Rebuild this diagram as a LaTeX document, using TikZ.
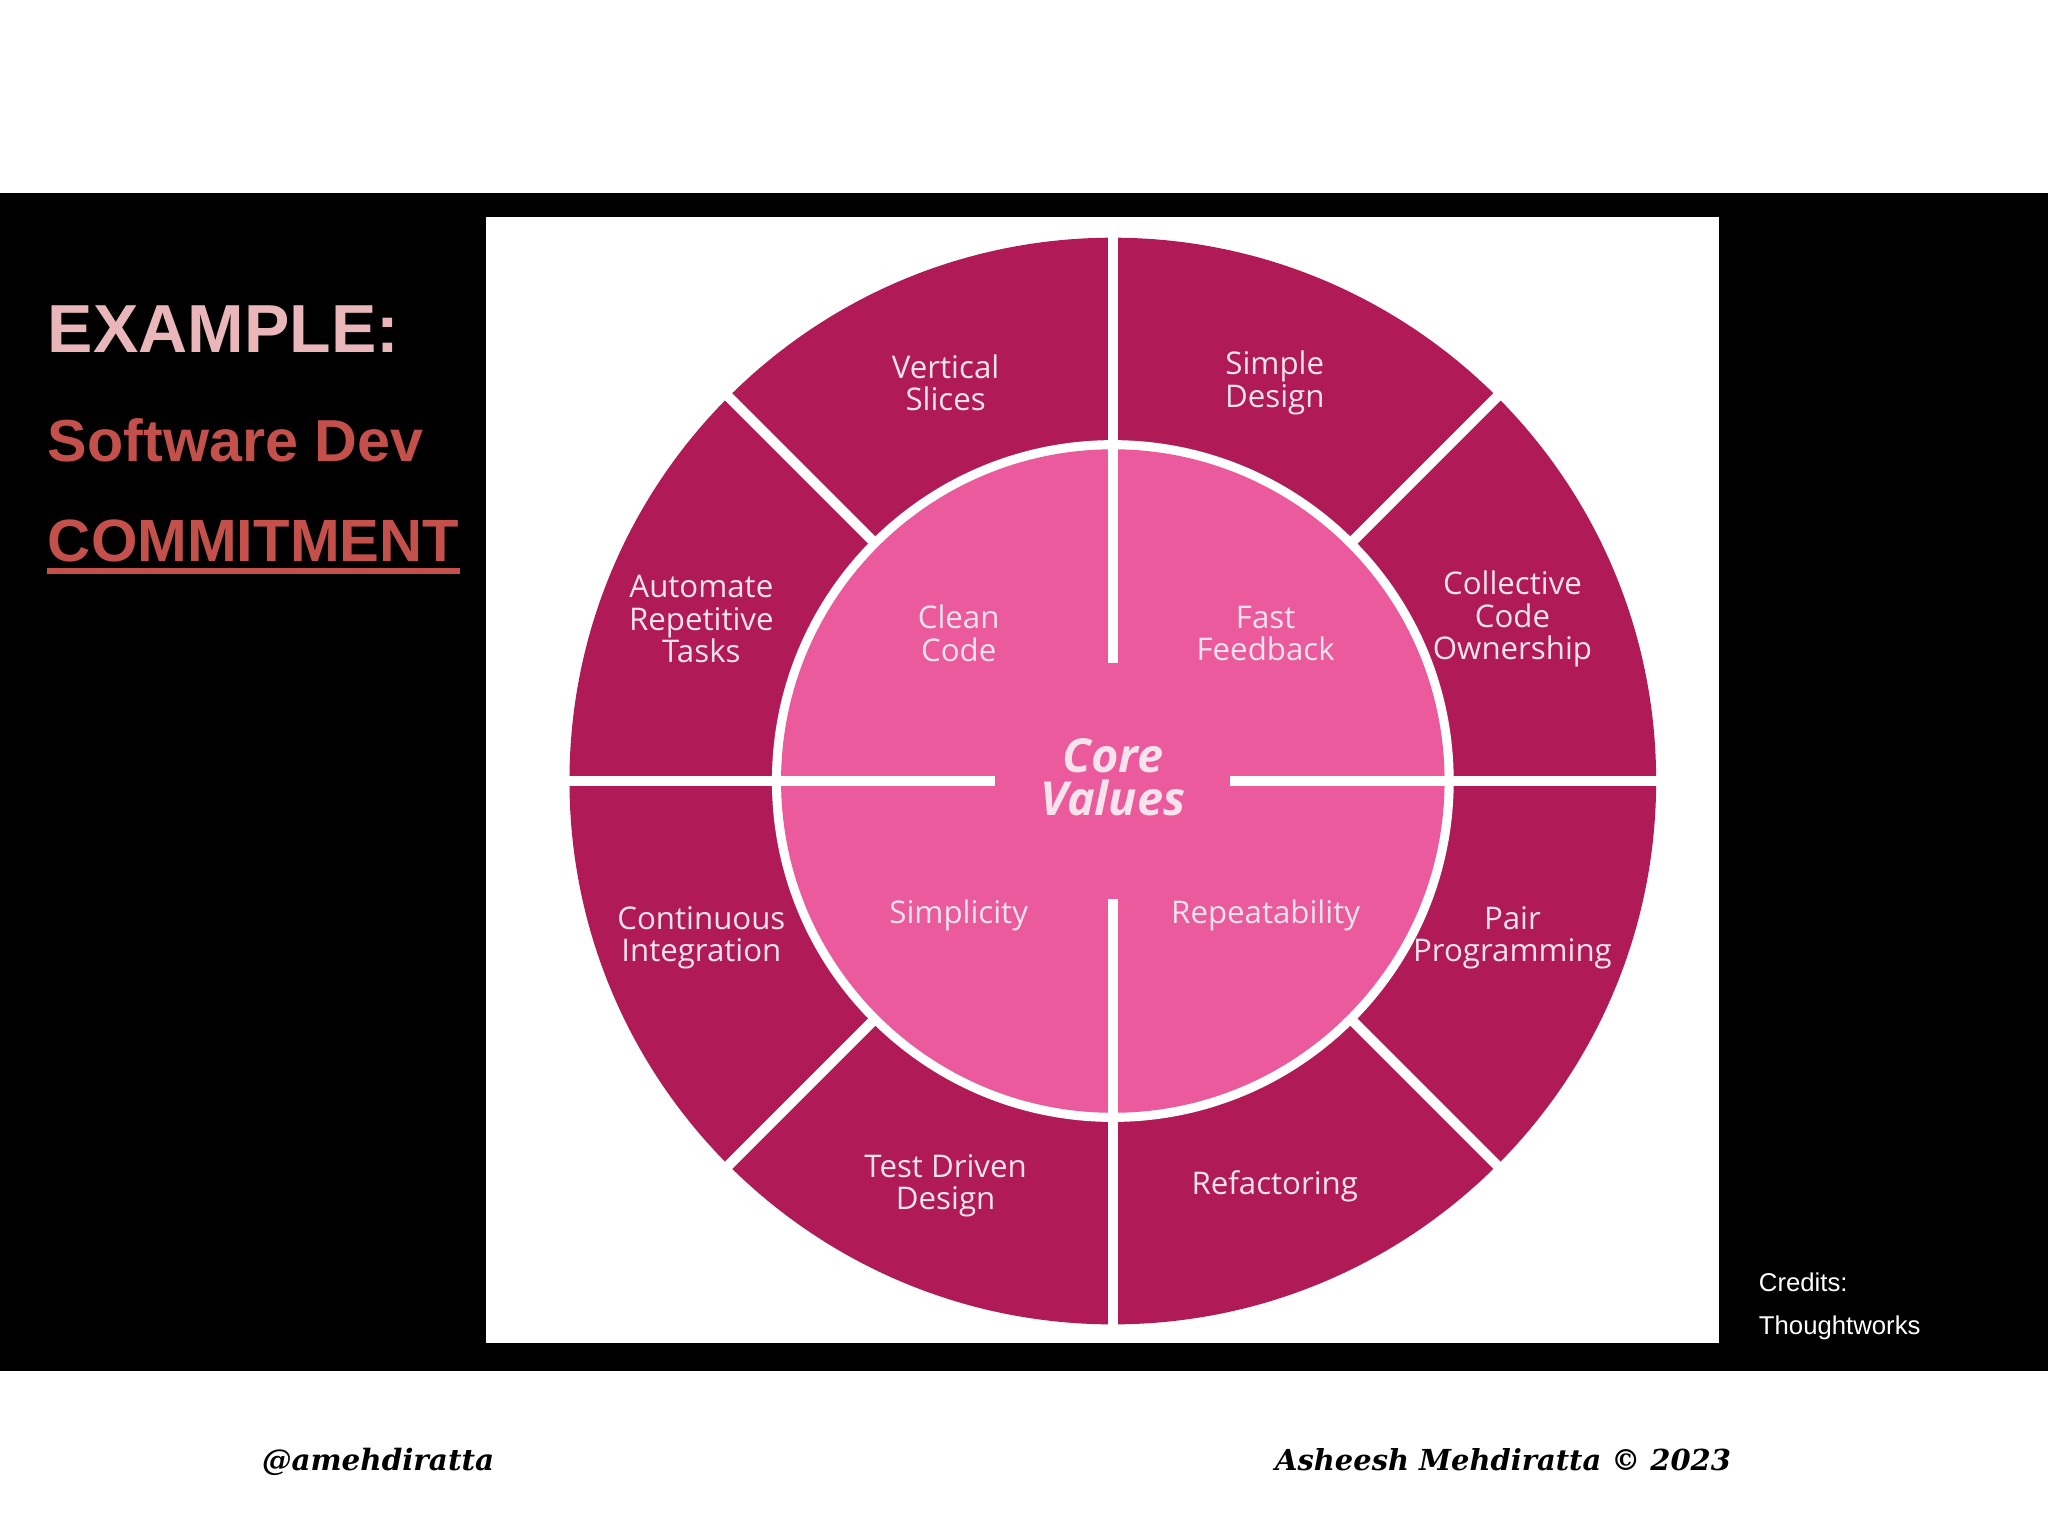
\documentclass[tikz,border=0pt]{standalone}
\usetikzlibrary{calc}
\usepackage{fontspec}
\setmainfont{Open Sans}
\newfontfamily\titlef{Liberation Sans}
\newfontfamily\footf{DejaVu Serif}
\definecolor{outerc}{HTML}{B01A57}
\definecolor{innerc}{HTML}{EA5A9C}
\definecolor{pale}{HTML}{E9B7B9}
\definecolor{redt}{HTML}{C4504C}
\definecolor{lbl}{HTML}{F6E3EC}
\begin{document}
\begin{tikzpicture}[x=0.01cm,y=0.01cm,
  lab/.style={text=lbl,align=center,font=\fontsize{6.8}{7.1}\selectfont},
  sep/.style={white,line width=2.2pt}]
\useasboundingbox (0,0) rectangle (1568,1176);
\fill[black] (0,126) rectangle (1568,1028);
\fill[white] (372,148) rectangle (1316,1010);
\coordinate (c) at (852,578);
\fill[outerc] (c) circle (416);
\fill[white] (c) circle (261);
\fill[innerc] (c) circle (254);
\foreach \a in {45,135,...,315} \draw[sep] ($(c)+(\a:258)$) -- ($(c)+(\a:422)$);
\foreach \a in {0,90,180,270} \draw[sep] ($(c)+(\a:90)$) -- ($(c)+(\a:422)$);
\node[lab] (vs) at (724,883) {Vertical\\Slices};
\node[lab] (sd) at (976,883) {Simple\\Design};
\node[lab] (ar) at (537,702) {Automate\\Repetitive\\Tasks};
\node[lab] (cc) at (1158,702) {Collective\\Code\\Ownership};
\node[lab] (ci) at (537,458) {Continuous\\Integration};
\node[lab] (pp) at (1158,458) {Pair\\Programming};
\node[lab] (td) at (724,268) {Test Driven\\Design};
\node[lab] (rf) at (976,268) {Refactoring};
\node[lab] (cl) at (734,691) {Clean\\Code};
\node[lab] (ff) at (969,691) {Fast\\Feedback};
\node[lab] (sm) at (734,475) {Simplicity};
\node[lab] (rp) at (969,475) {Repeatability};
\node[text=lbl,align=center,font=\fontsize{10.2}{9.5}\selectfont\bfseries\itshape] (core) at (852,581) {Core\\Values};
\node[anchor=base west,inner sep=0,text=pale,font=\titlef\fontsize{14.8}{16}\selectfont\bfseries] (t1) at (36,906) {EXAMPLE:};
\node[anchor=base west,inner sep=0,text=redt,font=\titlef\fontsize{12.9}{14}\selectfont\bfseries] (t2) at (36,823) {Software Dev};
\node[anchor=base west,inner sep=0,text=redt,font=\titlef\fontsize{13}{14}\selectfont\bfseries] (t3) at (36,746) {COMMITMENT};
\draw[redt,line width=1.2pt] ([yshift=-2pt]t3.base west) -- ([yshift=-2pt]t3.base east);
\node[anchor=base west,inner sep=0,text=white,font=\titlef\fontsize{5.6}{6}\selectfont] (cr1) at (1346,187) {Credits:};
\node[anchor=base west,inner sep=0,text=white,font=\titlef\fontsize{5.6}{6}\selectfont] (cr2) at (1346,154) {Thoughtworks};
\node[anchor=base west,inner sep=0,font=\footf\fontsize{6.4}{8}\selectfont\bfseries\itshape] (f1) at (200,50) {@amehdiratta};
\node[anchor=base east,inner sep=0,font=\footf\fontsize{6.3}{8}\selectfont\bfseries\itshape] (f2) at (1326,50) {Asheesh Mehdiratta © 2023};
\end{tikzpicture}
\end{document}
